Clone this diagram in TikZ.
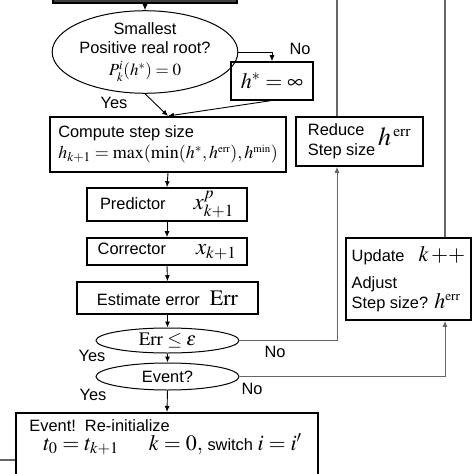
\documentclass[tikz,border=0pt]{standalone}
\usepackage{amsmath}
\usepackage{mathptmx}
\usepackage[no-math]{fontspec}
\setmainfont{Liberation Sans}
\usetikzlibrary{shapes.geometric,arrows.meta}

% math sizes used in the boxes
\newcommand{\mathsz}{\fontsize{22}{26}\selectfont}
\newcommand{\mathmid}{\fontsize{19}{22}\selectfont}
\newcommand{\supsm}[1]{{\scriptscriptstyle\mathrm{#1}}}

\begin{document}
\begin{tikzpicture}[x=1pt,y=-1pt,
  font=\fontsize{16.4}{20}\selectfont,
  box/.style={draw, line width=1.6pt, inner sep=0pt},
  oval/.style={draw, ellipse, line width=1pt, inner sep=0pt, align=center},
  flow/.style={-{Latex[length=6pt,width=5pt]}, line width=0.9pt},
  back/.style={draw=black!60, line width=1.4pt}]
  \useasboundingbox (0,0) rectangle (474,474);
  \clip (0,0) rectangle (474,474);
  \fill[white] (0,0) rectangle (474,474);

  % main column
  \node[box, fill=black!75, minimum width=184, minimum height=40] (init) at (145,-17) {};
  \node[oval, minimum width=170, minimum height=68] (root) at (145,52)
    {Smallest\\[-1pt]Positive real root?\\[2pt]{\fontsize{17}{18}\selectfont$P_k^i(h^*)=0$}};
  \node[box, minimum width=82, minimum height=38] (hinf) at (272,81) {\mathsz$h^*=\infty$};
  \node[box, minimum width=236, minimum height=55, align=left] (comp) at (168,144.5)
    {Compute step size\\[1pt]{\fontsize{18}{20}\selectfont$h_{k+1}=\max(\min(h^*,h^{\supsm{err}}),h^{\supsm{min}})$}};
  \node[box, minimum width=160, minimum height=33] (pred) at (167,204.5)
    {Predictor\hspace{28pt}{\fontsize{23}{26}\selectfont$x_{k+1}^p$}};
  \node[box, minimum width=160, minimum height=27] (corr) at (167,251.5)
    {Corrector\hspace{30pt}{\fontsize{23}{26}\selectfont$x_{k+1}$}};
  \node[box, minimum width=181, minimum height=32] (est) at (167.5,298)
    {Estimate error\hspace{10pt}{\mathsz$\mathrm{Err}$}};
  \node[oval, minimum width=143, minimum height=25] (err) at (167.5,340.5)
    {\mathmid$\mathrm{Err}\leq\varepsilon$};
  \node[oval, minimum width=143, minimum height=27] (event) at (167.5,376.5) {Event?};
  \node[box, anchor=north, minimum width=302, minimum height=100] (evbox) at (167,412) {};
  \node[anchor=north west, align=left, inner sep=0pt] (evtxt) at ([shift={(14,7)}]evbox.north west)
    {Event!\ \ Re-initialize\\[-1pt]
     \hspace{14pt}{\mathsz$t_0=t_{k+1}$\hspace{30pt}$k=0,$} switch {\mathsz$i=i'$}};

  % right column
  \node[box, minimum width=127, minimum height=49] (reduce) at (359.5,141.5)
    {\begin{tabular}{@{}l@{}}Reduce\\Step size\end{tabular}\,{\fontsize{26}{28}\selectfont$h^{\,\supsm{err}}$}};
  \node[box, minimum width=125, minimum height=82, align=left] (upd) at (408.5,279)
    {Update\hspace{14pt}{\mathsz$k\,{+}{+}$}\\[7pt]Adjust\\Step size? {\mathsz$h^{\supsm{err}}$}};

  % labels
  \node (no1) at (300,49) {No};
  \node (yes1) at (114,103) {Yes};
  \node (yes2) at (92,356) {Yes};
  \node (no2) at (275,352) {No};
  \node (no3) at (252,389) {No};
  \node (yes3) at (93,395) {Yes};

  % connectors
  \coordinate (merge) at (168,116);
  \coordinate (c1) at (337,-10);
  \coordinate (c2) at (445,-10);
  \coordinate (c3) at (-10,460);
  \draw[flow] (init.south) -- (root.north);
  \draw[flow] (root.east) -| (hinf.north);
  \draw[flow] (root.south) -- (merge);
  \draw[flow] ([xshift=-2]hinf.south) -- (merge);
  \draw[flow] (comp.south) -- (pred.north);
  \draw[flow] (pred.south) -- (corr.north);
  \draw[flow] (corr.south) -- (est.north);
  \draw[flow] (est.south) -- (err.north);
  \draw[flow] (err.south) -- (event.north);
  \draw[flow] (event.south) -- (evbox.north);
  \draw[back, flow] (err.east) -| (c1 |- reduce.south);
  \draw[back] (c1 |- reduce.north) -- (c1);
  \draw[back, flow] (event.east) -| (c2 |- upd.south);
  \draw[back] (c2 |- upd.north) -- (c2);
  \draw[back] (c3) -- (c3 -| evbox.west);
\end{tikzpicture}
\end{document}
